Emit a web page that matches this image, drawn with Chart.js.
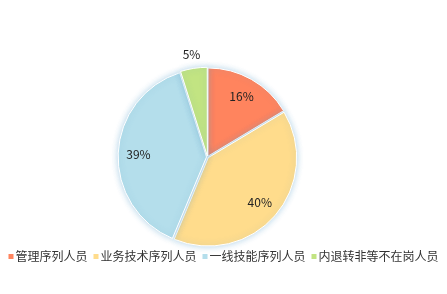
<!DOCTYPE html>
<html>
<head>
<meta charset="utf-8">
<script src="https://cdn.jsdelivr.net/npm/chart.js@4/dist/chart.umd.min.js"></script>
<style>
  html, body { margin: 0; padding: 0; background: #fff; }
  #wrap { width: 447px; height: 294px; position: relative; }
</style>
</head>
<body>
<div id="wrap"><canvas id="pie"></canvas></div>
<script>
// 数据
const categories = ['管理序列人员', '业务技术序列人员', '一线技能序列人员', '内退转非等不在岗人员'];
const values = [16.4, 39.9, 38.8, 4.9];
const colors = ['#FF845E', '#FFDC8C', '#B4DEEB', '#C2E482'];

const FONT = '"Noto Sans CJK SC", "Microsoft YaHei", sans-serif';
const total = values.reduce((a, b) => a + b, 0);

// 阴影
const shadowPlugin = {
    id: 'pieShadow',
    beforeDatasetDraw(chart) {
        const ctx = chart.ctx;
        ctx.save();
        ctx.shadowColor = 'rgba(90, 160, 205, 0.45)';
        ctx.shadowBlur = 6;
    },
    afterDatasetDraw(chart) {
        chart.ctx.restore();
    }
};

// 百分比标签
const labelPlugin = {
    id: 'pieLabels',
    afterDatasetsDraw(chart) {
        const ctx = chart.ctx;
        const meta = chart.getDatasetMeta(0);
        ctx.save();
        ctx.font = '12px ' + FONT;
        ctx.fillStyle = '#222';
        ctx.textAlign = 'center';
        ctx.textBaseline = 'middle';
        meta.data.forEach((arc, i) => {
            const pct = values[i] / total * 100;
            const mid = (arc.startAngle + arc.endAngle) / 2;
            const off = arc.options.offset || 0;
            const dist = pct < 8 ? arc.outerRadius + 16 : arc.outerRadius * 0.74 + off;
            const x = arc.x + Math.cos(mid) * dist;
            const y = arc.y + Math.sin(mid) * dist;
            ctx.fillText(Math.round(pct) + '%', x, y);
        });
        ctx.restore();
    }
};

// 图例（底部）
const legendPlugin = {
    id: 'bottomLegend',
    afterDraw(chart) {
        const ctx = chart.ctx;
        ctx.save();
        ctx.font = '12px ' + FONT;
        ctx.textBaseline = 'middle';
        const box = 5, gapIn = 2, gapOut = 6;
        const widths = categories.map(c => ctx.measureText(c).width);
        let totalW = 0;
        widths.forEach((w, i) => {
            totalW += box + gapIn + w + (i < widths.length - 1 ? gapOut : 0);
        });
        let x = (chart.width - totalW) / 2;
        const y = 256.5;
        categories.forEach((c, i) => {
            ctx.fillStyle = colors[i];
            ctx.fillRect(x, y - 2.5, box, box);
            x += box + gapIn;
            ctx.fillStyle = '#333';
            ctx.fillText(c, x, y);
            x += widths[i] + gapOut;
        });
        ctx.restore();
    }
};

new Chart(document.getElementById('pie'), {
    type: 'pie',
    data: {
        labels: categories,
        datasets: [{
            data: values,
            backgroundColor: colors,
            borderColor: '#fff',
            borderWidth: 1,
            offset: 4,
            radius: 88
        }]
    },
    options: {
        responsive: true,
        maintainAspectRatio: false,
        animation: false,
        layout: { padding: { left: 0, right: 32, top: 36, bottom: 16 } },
        plugins: {
            legend: { display: false },
            tooltip: { enabled: false }
        }
    },
    plugins: [shadowPlugin, labelPlugin, legendPlugin]
});
</script>
</body>
</html>
